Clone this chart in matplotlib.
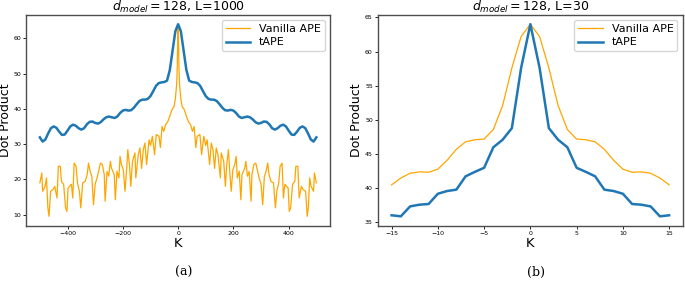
import numpy as np
import matplotlib.pyplot as plt

# ---- (a) d_model=128, L=1000 ----
vanilla_k_a = [-500, -493, -490, -481, -476, -471, -467, -461, -452, -446,
               -438, -433, -426, -422, -414, -407, -402, -398, -386, -381,
               -376, -369, -364, -357, -352, -345, -336, -329, -324, -318,
               -312, -306, -300, -293, -281, -274, -267, -264, -257, -251,
               -245, -241, -231, -227, -221, -214, -210, -205, -198, -192,
               -186, -182, -176, -171, -165, -156, -153, -144, -138, -132,
               -126, -120, -114, -105, -100, -93, -85, -79, -69, -64,
               -58, -52, -45, -37, -29, -21, -15, -10, -5, -3, -2, -1, 0,
               1, 2, 3, 5, 10, 15, 21, 29, 37, 45, 52, 58, 64, 69, 79, 85,
               93, 100, 105, 114, 120, 126, 132, 138, 144, 153, 156, 165,
               171, 176, 182, 186, 192, 198, 205, 210, 214, 221, 227, 231,
               241, 245, 251, 257, 264, 267, 274, 281, 293, 300, 306, 312,
               318, 324, 329, 336, 345, 352, 357, 364, 369, 376, 381, 386,
               398, 402, 407, 414, 422, 426, 433, 438, 446, 452, 461, 467,
               471, 476, 481, 490, 493, 500]
vanilla_a = [19.0, 21.8, 16.6, 18.0, 20.4, 11.9, 9.5, 16.6, 17.1, 18.0,
             14.7, 23.7, 23.7, 19.4, 18.6, 11.9, 10.9, 17.5, 18.6, 14.7,
             24.6, 23.7, 19.0, 16.6, 11.9, 19.0, 19.4, 21.3, 24.6, 22.2,
             20.8, 12.8, 18.6, 20.4, 24.6, 24.2, 21.3, 13.8, 22.2, 20.9,
             25.1, 23.2, 21.3, 14.2, 22.3, 20.4, 26.5, 24.2, 22.7, 16.6,
             23.1, 28.4, 24.2, 18.0, 25.1, 27.5, 20.4, 27.0, 28.9, 23.1,
             28.4, 30.3, 24.2, 31.2, 29.6, 32.2, 27.0, 32.7, 32.2, 29.0,
             35.0, 33.6, 35.5, 36.4, 38.2, 40.0, 40.5, 42.8, 47.2, 52.1, 57.6, 62.2, 64.0,
             62.2, 57.6, 52.1, 47.2, 42.8, 40.5, 40.0, 38.2, 36.4, 35.5, 33.6, 35.0,
             29.0, 32.2, 32.7, 27.0, 32.2, 29.6, 31.2, 24.2, 30.3, 28.4, 23.1,
             28.9, 27.0, 20.4, 27.5, 25.1, 18.0, 24.2, 28.4, 23.1, 16.6, 22.7,
             24.2, 26.5, 20.4, 22.3, 14.2, 21.3, 23.2, 25.1, 20.9, 22.2, 13.8,
             21.3, 24.2, 24.6, 20.4, 18.6, 12.8, 20.8, 22.2, 24.6, 21.3, 19.4,
             19.0, 11.9, 16.6, 19.0, 23.7, 24.6, 14.7, 18.6, 17.5, 10.9, 11.9,
             18.6, 19.4, 23.7, 23.7, 14.7, 18.0, 17.1, 16.6, 9.5, 11.9, 20.4,
             18.0, 16.6, 21.8, 19.0]

tape_k_a = np.arange(-500, 501, 10)
tape_a = [31.9, 30.7, 31.3, 33.0, 34.5, 35.0, 34.6, 33.5, 32.6, 32.7,
          33.8, 35.0, 35.5, 35.2, 34.5, 34.1, 34.5, 35.6, 36.3, 36.4,
          36.0, 35.8, 36.2, 37.0, 37.6, 37.8, 37.6, 37.4, 37.8, 38.8,
          39.5, 39.7, 39.5, 39.6, 40.3, 41.3, 42.2, 42.6, 42.6, 42.8,
          43.6, 45.0, 46.5, 47.3, 47.5, 47.6, 48.0, 51.0, 56.5, 62.0,
          64.0,
          62.0, 56.5, 51.0, 48.0, 47.6, 47.5, 47.3, 46.5, 45.0, 43.6,
          42.8, 42.6, 42.6, 42.2, 41.3, 40.3, 39.6, 39.5, 39.7, 39.5,
          38.8, 37.8, 37.4, 37.6, 37.8, 37.6, 37.0, 36.2, 35.8, 36.0,
          36.4, 36.3, 35.6, 34.5, 34.1, 34.5, 35.2, 35.5, 35.0, 33.8,
          32.7, 32.6, 33.5, 34.6, 35.0, 34.5, 33.0, 31.3, 30.7, 31.9]

# ---- (b) d_model=128, L=30 ----
k_b = np.arange(-15, 16)
vanilla_b = [40.5, 41.5, 42.2, 42.4, 42.35, 42.8, 44.1, 45.7, 46.8, 47.1, 47.2,
             48.6, 52.1, 57.6, 62.2, 64.0, 62.2, 57.6, 52.1, 48.6, 47.2, 47.1,
             46.8, 45.7, 44.1, 42.8, 42.35, 42.4, 42.2, 41.5, 40.5]
tape_b = [36.05, 35.9, 37.35, 37.6, 37.7, 39.2, 39.6, 39.8, 41.75, 42.4, 43.0,
          46.0, 47.1, 48.8, 57.6, 64.0, 57.6, 48.8, 47.1, 46.0, 43.0, 42.4,
          41.75, 39.8, 39.6, 39.2, 37.7, 37.6, 37.35, 35.9, 36.05]

orange = '#ffa500'
blue = '#1f77b4'

fig = plt.figure(figsize=(6.85, 2.81), dpi=100)
ax1 = fig.add_axes([0.038, 0.196, 0.444, 0.752])
ax2 = fig.add_axes([0.5514, 0.196, 0.4457, 0.752])

ax1.plot(vanilla_k_a, vanilla_a, color=orange, lw=0.9, label='Vanilla APE')
ax1.plot(tape_k_a, tape_a, color=blue, lw=1.8, label='tAPE')
ax1.set_xticks([-400, -200, 0, 200, 400])
ax1.set_yticks([10, 20, 30, 40, 50, 60])
ax1.set_title(r'$d_{model} = 128$, L=1000', fontsize=9, pad=1.5)

ax2.plot(k_b, vanilla_b, color=orange, lw=0.9, label='Vanilla APE')
ax2.plot(k_b, tape_b, color=blue, lw=1.8, label='tAPE')
ax2.set_xticks([-15, -10, -5, 0, 5, 10, 15])
ax2.set_yticks([35, 40, 45, 50, 55, 60, 65])
ax2.set_title(r'$d_{model} = 128$, L=30', fontsize=9, pad=1.5)

for ax, cap in [(ax1, '(a)'), (ax2, '(b)')]:
    ax.tick_params(labelsize=4.5, length=2, width=0.6, pad=1.5)
    for s in ax.spines.values():
        s.set_color('0.3')
        s.set_linewidth(1.0)
    ax.set_xlabel('K', fontsize=9.5, labelpad=1)
    ax.set_ylabel('Dot Product', fontsize=9)
    ax.yaxis.set_label_coords(-0.047, 0.5)
    ax.legend(loc='upper right', fontsize=8, handlelength=2.2,
              borderpad=0.35, labelspacing=0.3, handletextpad=0.8)
    pos = ax.get_position()
    fig.text(pos.x0 + pos.width / 2 + 0.008, 0.03, cap, ha='center', va='center',
             fontsize=9, family='DejaVu Serif')

fig.savefig('out.png', dpi=100)
